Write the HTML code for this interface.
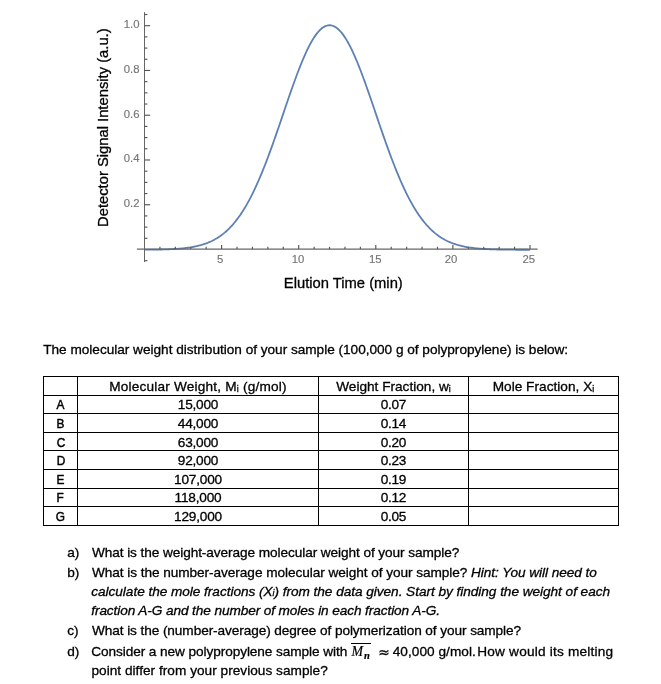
<!DOCTYPE html>
<html lang="en"><head><meta charset="utf-8"><title>Polymer GPC problem</title>
<style>
html,body{margin:0;padding:0;background:#fff;}
body{width:661px;height:684px;position:relative;overflow:hidden;font-family:"Liberation Sans",Arial,sans-serif;color:#000;}
svg{position:absolute;left:0;top:0;}
.tk{font-family:"Liberation Sans",Arial,sans-serif;font-size:11.3px;fill:#757575;stroke:#757575;stroke-width:0.15px;}
.al{font-family:"Liberation Sans",Arial,sans-serif;font-size:14.77px;fill:#000;stroke:#000;stroke-width:0.3px;}
.ln,td{-webkit-text-stroke:0.3px #000;}
.ln{position:absolute;white-space:nowrap;font-size:13.63px;line-height:16px;}
.ln i{font-style:italic;}
table{position:absolute;left:43px;top:376px;border-collapse:collapse;table-layout:fixed;width:575px;font-size:13.63px;}
td{border:1px solid #000;height:17.6px;padding:0;text-align:center;line-height:17px;vertical-align:middle;overflow:hidden;white-space:nowrap;}
td span{position:relative;}
td span.cl{display:inline-block;transform:scaleX(0.87);-webkit-text-stroke:0.5px #000;}
sub{font-size:8.8px;vertical-align:baseline;position:relative;top:0.8px;line-height:0;}
.mn{font-family:"Liberation Serif","Times New Roman",serif;font-size:13.8px;border-top:1px solid #000;display:inline-block;line-height:12px;padding-top:2px;width:19.8px;position:relative;top:-0.7px;-webkit-text-stroke:0.2px #000;}
.mn sub.n{font-size:10.5px;top:3.4px;font-weight:bold;margin-left:1px;}
.ap{font-family:"DejaVu Sans","Liberation Sans",sans-serif;font-size:13.6px;}
col.c1{width:34px}col.c2{width:241px}col.c3{width:150px}col.c4{width:150px}
</style></head><body>
<svg width="661" height="300" viewBox="0 0 661 300">
<path d="M144.50,249.72 L146.04,249.71 L147.58,249.70 L149.13,249.69 L150.67,249.67 L152.21,249.66 L153.75,249.64 L155.29,249.61 L156.84,249.59 L158.38,249.56 L159.92,249.53 L161.46,249.49 L163.00,249.46 L164.55,249.41 L166.09,249.36 L167.63,249.31 L169.17,249.25 L170.71,249.18 L172.26,249.11 L173.80,249.02 L175.34,248.93 L176.88,248.83 L178.42,248.72 L179.97,248.59 L181.51,248.46 L183.05,248.31 L184.59,248.14 L186.13,247.96 L187.68,247.76 L189.22,247.54 L190.76,247.31 L192.30,247.04 L193.84,246.76 L195.39,246.45 L196.93,246.11 L198.47,245.74 L200.01,245.34 L201.55,244.91 L203.10,244.44 L204.64,243.93 L206.18,243.39 L207.72,242.79 L209.26,242.15 L210.81,241.47 L212.35,240.73 L213.89,239.93 L215.43,239.08 L216.97,238.17 L218.52,237.19 L220.06,236.15 L221.60,235.04 L223.14,233.86 L224.68,232.59 L226.23,231.25 L227.77,229.83 L229.31,228.33 L230.85,226.73 L232.39,225.04 L233.94,223.26 L235.48,221.39 L237.02,219.41 L238.56,217.33 L240.10,215.15 L241.65,212.87 L243.19,210.47 L244.73,207.97 L246.27,205.36 L247.81,202.64 L249.36,199.81 L250.90,196.86 L252.44,193.81 L253.98,190.64 L255.52,187.37 L257.07,183.98 L258.61,180.49 L260.15,176.90 L261.69,173.20 L263.23,169.41 L264.78,165.52 L266.32,161.55 L267.86,157.48 L269.40,153.34 L270.94,149.13 L272.49,144.84 L274.03,140.50 L275.57,136.10 L277.11,131.66 L278.65,127.18 L280.20,122.67 L281.74,118.14 L283.28,113.60 L284.82,109.07 L286.36,104.54 L287.91,100.03 L289.45,95.55 L290.99,91.12 L292.53,86.74 L294.07,82.43 L295.62,78.19 L297.16,74.04 L298.70,69.99 L300.24,66.06 L301.78,62.24 L303.33,58.56 L304.87,55.02 L306.41,51.64 L307.95,48.42 L309.49,45.37 L311.04,42.51 L312.58,39.85 L314.12,37.38 L315.66,35.13 L317.20,33.09 L318.75,31.28 L320.29,29.70 L321.83,28.35 L323.37,27.24 L324.91,26.37 L326.46,25.75 L328.00,25.37 L329.54,25.25 L331.08,25.37 L332.62,25.75 L334.17,26.37 L335.71,27.24 L337.25,28.35 L338.79,29.70 L340.33,31.28 L341.88,33.09 L343.42,35.13 L344.96,37.38 L346.50,39.85 L348.04,42.51 L349.59,45.37 L351.13,48.42 L352.67,51.64 L354.21,55.02 L355.75,58.56 L357.30,62.24 L358.84,66.06 L360.38,69.99 L361.92,74.04 L363.46,78.19 L365.01,82.43 L366.55,86.74 L368.09,91.12 L369.63,95.55 L371.17,100.03 L372.72,104.54 L374.26,109.07 L375.80,113.60 L377.34,118.14 L378.88,122.67 L380.43,127.18 L381.97,131.66 L383.51,136.10 L385.05,140.50 L386.59,144.84 L388.14,149.13 L389.68,153.34 L391.22,157.48 L392.76,161.55 L394.30,165.52 L395.85,169.41 L397.39,173.20 L398.93,176.90 L400.47,180.49 L402.01,183.98 L403.56,187.37 L405.10,190.64 L406.64,193.81 L408.18,196.86 L409.72,199.81 L411.27,202.64 L412.81,205.36 L414.35,207.97 L415.89,210.47 L417.43,212.87 L418.98,215.15 L420.52,217.33 L422.06,219.41 L423.60,221.39 L425.14,223.26 L426.69,225.04 L428.23,226.73 L429.77,228.33 L431.31,229.83 L432.85,231.25 L434.40,232.59 L435.94,233.86 L437.48,235.04 L439.02,236.15 L440.56,237.19 L442.11,238.17 L443.65,239.08 L445.19,239.93 L446.73,240.73 L448.27,241.47 L449.82,242.15 L451.36,242.79 L452.90,243.39 L454.44,243.93 L455.98,244.44 L457.53,244.91 L459.07,245.34 L460.61,245.74 L462.15,246.11 L463.69,246.45 L465.24,246.76 L466.78,247.04 L468.32,247.31 L469.86,247.54 L471.40,247.76 L472.95,247.96 L474.49,248.14 L476.03,248.31 L477.57,248.46 L479.11,248.59 L480.66,248.72 L482.20,248.83 L483.74,248.93 L485.28,249.02 L486.82,249.11 L488.37,249.18 L489.91,249.25 L491.45,249.31 L492.99,249.36 L494.53,249.41 L496.08,249.46 L497.62,249.49 L499.16,249.53 L500.70,249.56 L502.24,249.59 L503.79,249.61 L505.33,249.64 L506.87,249.66 L508.41,249.67 L509.95,249.69 L511.50,249.70 L513.04,249.71 L514.58,249.72 L516.12,249.73 L517.66,249.74 L519.21,249.75 L520.75,249.76 L522.29,249.76 L523.83,249.77 L525.37,249.77 L526.92,249.77 L528.46,249.78 L530.00,249.78" fill="none" stroke="#5e81b5" stroke-width="1.8" stroke-linejoin="round"/>
<line x1="136.9" y1="249.0" x2="537.6" y2="249.0" stroke="#666" stroke-width="1.25"/>
<line x1="144.5" y1="12.1" x2="144.5" y2="262.1" stroke="#666" stroke-width="1"/>
<line x1="159.92" y1="249.0" x2="159.92" y2="246.8" stroke="#555" stroke-width="1.15"/>
<line x1="175.34" y1="249.0" x2="175.34" y2="246.8" stroke="#555" stroke-width="1.15"/>
<line x1="190.76" y1="249.0" x2="190.76" y2="246.8" stroke="#555" stroke-width="1.15"/>
<line x1="206.18" y1="249.0" x2="206.18" y2="246.8" stroke="#555" stroke-width="1.15"/>
<line x1="221.60" y1="249.0" x2="221.60" y2="245.0" stroke="#555" stroke-width="1.15"/>
<line x1="237.02" y1="249.0" x2="237.02" y2="246.8" stroke="#555" stroke-width="1.15"/>
<line x1="252.44" y1="249.0" x2="252.44" y2="246.8" stroke="#555" stroke-width="1.15"/>
<line x1="267.86" y1="249.0" x2="267.86" y2="246.8" stroke="#555" stroke-width="1.15"/>
<line x1="283.28" y1="249.0" x2="283.28" y2="246.8" stroke="#555" stroke-width="1.15"/>
<line x1="298.70" y1="249.0" x2="298.70" y2="245.0" stroke="#555" stroke-width="1.15"/>
<line x1="314.12" y1="249.0" x2="314.12" y2="246.8" stroke="#555" stroke-width="1.15"/>
<line x1="329.54" y1="249.0" x2="329.54" y2="246.8" stroke="#555" stroke-width="1.15"/>
<line x1="344.96" y1="249.0" x2="344.96" y2="246.8" stroke="#555" stroke-width="1.15"/>
<line x1="360.38" y1="249.0" x2="360.38" y2="246.8" stroke="#555" stroke-width="1.15"/>
<line x1="375.80" y1="249.0" x2="375.80" y2="245.0" stroke="#555" stroke-width="1.15"/>
<line x1="391.22" y1="249.0" x2="391.22" y2="246.8" stroke="#555" stroke-width="1.15"/>
<line x1="406.64" y1="249.0" x2="406.64" y2="246.8" stroke="#555" stroke-width="1.15"/>
<line x1="422.06" y1="249.0" x2="422.06" y2="246.8" stroke="#555" stroke-width="1.15"/>
<line x1="437.48" y1="249.0" x2="437.48" y2="246.8" stroke="#555" stroke-width="1.15"/>
<line x1="452.90" y1="249.0" x2="452.90" y2="245.0" stroke="#555" stroke-width="1.15"/>
<line x1="468.32" y1="249.0" x2="468.32" y2="246.8" stroke="#555" stroke-width="1.15"/>
<line x1="483.74" y1="249.0" x2="483.74" y2="246.8" stroke="#555" stroke-width="1.15"/>
<line x1="499.16" y1="249.0" x2="499.16" y2="246.8" stroke="#555" stroke-width="1.15"/>
<line x1="514.58" y1="249.0" x2="514.58" y2="246.8" stroke="#555" stroke-width="1.15"/>
<line x1="530.00" y1="249.0" x2="530.00" y2="245.0" stroke="#555" stroke-width="1.15"/>
<line x1="144.5" y1="260.69" x2="147.4" y2="260.69" stroke="#555" stroke-width="1.15"/>
<line x1="144.5" y1="238.31" x2="147.4" y2="238.31" stroke="#555" stroke-width="1.15"/>
<line x1="144.5" y1="227.12" x2="147.4" y2="227.12" stroke="#555" stroke-width="1.15"/>
<line x1="144.5" y1="215.93" x2="147.4" y2="215.93" stroke="#555" stroke-width="1.15"/>
<line x1="144.5" y1="204.74" x2="150.1" y2="204.74" stroke="#555" stroke-width="1.15"/>
<line x1="144.5" y1="193.55" x2="147.4" y2="193.55" stroke="#555" stroke-width="1.15"/>
<line x1="144.5" y1="182.36" x2="147.4" y2="182.36" stroke="#555" stroke-width="1.15"/>
<line x1="144.5" y1="171.17" x2="147.4" y2="171.17" stroke="#555" stroke-width="1.15"/>
<line x1="144.5" y1="159.98" x2="150.1" y2="159.98" stroke="#555" stroke-width="1.15"/>
<line x1="144.5" y1="148.79" x2="147.4" y2="148.79" stroke="#555" stroke-width="1.15"/>
<line x1="144.5" y1="137.60" x2="147.4" y2="137.60" stroke="#555" stroke-width="1.15"/>
<line x1="144.5" y1="126.41" x2="147.4" y2="126.41" stroke="#555" stroke-width="1.15"/>
<line x1="144.5" y1="115.22" x2="150.1" y2="115.22" stroke="#555" stroke-width="1.15"/>
<line x1="144.5" y1="104.03" x2="147.4" y2="104.03" stroke="#555" stroke-width="1.15"/>
<line x1="144.5" y1="92.84" x2="147.4" y2="92.84" stroke="#555" stroke-width="1.15"/>
<line x1="144.5" y1="81.65" x2="147.4" y2="81.65" stroke="#555" stroke-width="1.15"/>
<line x1="144.5" y1="70.46" x2="150.1" y2="70.46" stroke="#555" stroke-width="1.15"/>
<line x1="144.5" y1="59.27" x2="147.4" y2="59.27" stroke="#555" stroke-width="1.15"/>
<line x1="144.5" y1="48.08" x2="147.4" y2="48.08" stroke="#555" stroke-width="1.15"/>
<line x1="144.5" y1="36.89" x2="147.4" y2="36.89" stroke="#555" stroke-width="1.15"/>
<line x1="144.5" y1="25.70" x2="150.1" y2="25.70" stroke="#555" stroke-width="1.15"/>
<line x1="144.5" y1="14.51" x2="147.4" y2="14.51" stroke="#555" stroke-width="1.15"/>
<text x="220.2" y="263.3" text-anchor="middle" class="tk">5</text>
<text x="298.1" y="263.3" text-anchor="middle" class="tk">10</text>
<text x="375.3" y="263.3" text-anchor="middle" class="tk">15</text>
<text x="451.0" y="263.3" text-anchor="middle" class="tk">20</text>
<text x="528.8" y="263.3" text-anchor="middle" class="tk">25</text>
<text x="139.5" y="207.1" text-anchor="end" class="tk">0.2</text>
<text x="139.5" y="162.4" text-anchor="end" class="tk">0.4</text>
<text x="139.5" y="117.6" text-anchor="end" class="tk">0.6</text>
<text x="139.5" y="72.9" text-anchor="end" class="tk">0.8</text>
<text x="139.5" y="28.1" text-anchor="end" class="tk">1.0</text>
<text x="343.3" y="288" text-anchor="middle" class="al">Elution Time (min)</text>
<text transform="translate(108,127.7) rotate(-90)" text-anchor="middle" class="al">Detector Signal Intensity (a.u.)</text>
</svg>
<div class="ln" id="L0" style="left:43.26px;top:341.70px;letter-spacing:-0.017px;">The molecular weight distribution of your sample (100,000 g of polypropylene) is below:</div>
<div class="ln" id="a0" style="left:67.26px;top:544.70px;letter-spacing:0.000px;">a)</div>
<div class="ln" id="a1" style="left:91.96px;top:544.70px;letter-spacing:-0.078px;">What is the weight-average molecular weight of your sample?</div>
<div class="ln" id="b0" style="left:67.26px;top:564.70px;letter-spacing:0.000px;">b)</div>
<div class="ln" id="b1" style="left:91.96px;top:564.70px;letter-spacing:-0.056px;">What is the number-average molecular weight of your sample? <i>Hint: You will need to</i></div>
<div class="ln" id="b2" style="left:91.26px;top:583.70px;letter-spacing:-0.039px;"><i>calculate the mole fractions (X<sub>i</sub>) from the data given. Start by finding the weight of each</i></div>
<div class="ln" id="b3" style="left:91.26px;top:602.70px;letter-spacing:-0.096px;"><i>fraction A-G and the number of moles in each fraction A-G.</i></div>
<div class="ln" id="c0" style="left:67.26px;top:622.70px;letter-spacing:0.000px;">c)</div>
<div class="ln" id="c1" style="left:91.96px;top:622.70px;letter-spacing:-0.081px;">What is the (number-average) degree of polymerization of your sample?</div>
<div class="ln" id="d0" style="left:67.26px;top:643.70px;letter-spacing:0.000px;">d)</div>
<div class="ln" id="d1" style="left:91.22px;top:643.70px;letter-spacing:-0.077px;">Consider a new polypropylene sample with</div>
<div class="ln" id="d2" style="left:351.48px;top:643.70px;letter-spacing:0.000px;"><span class="mn"><i>M</i><sub class="n"><i>n</i></sub></span></div>
<div class="ln" id="d3" style="left:378.26px;top:643.70px;letter-spacing:0.000px;"><span class="ap">&#8776;</span></div>
<div class="ln" id="d5" style="left:392.74px;top:643.70px;letter-spacing:0.042px;">40,000 g/mol.</div>
<div class="ln" id="d4" style="left:477.26px;top:643.70px;letter-spacing:0.200px;">How would its melting</div>
<div class="ln" id="e1" style="left:91.48px;top:662.70px;letter-spacing:0.026px;">point differ from your previous sample?</div>
<table><colgroup><col class="c1"><col class="c2"><col class="c3"><col class="c4"></colgroup>
<tr><td></td><td><span style="top:1px;letter-spacing:0.19px">Molecular Weight, M<sub>i</sub> (g/mol)</span></td><td><span style="top:1px;letter-spacing:0.0px">Weight Fraction, w<sub>i</sub></span></td><td><span style="top:1px;letter-spacing:0.03px">Mole Fraction, X<sub>i</sub></span></td></tr>
<tr><td><span class="cl" style="top:0px;letter-spacing:0px">A</span></td><td><span style="top:0px;letter-spacing:-0.2px">15,000</span></td><td><span style="top:0px;letter-spacing:-0.3px">0.07</span></td><td></td></tr>
<tr><td><span class="cl" style="top:1px;letter-spacing:0px">B</span></td><td><span style="top:1px;letter-spacing:-0.2px">44,000</span></td><td><span style="top:1px;letter-spacing:-0.3px">0.14</span></td><td></td></tr>
<tr><td><span class="cl" style="top:1px;letter-spacing:0px">C</span></td><td><span style="top:1px;letter-spacing:-0.2px">63,000</span></td><td><span style="top:1px;letter-spacing:-0.3px">0.20</span></td><td></td></tr>
<tr><td><span class="cl" style="top:0px;letter-spacing:0px">D</span></td><td><span style="top:0px;letter-spacing:-0.2px">92,000</span></td><td><span style="top:0px;letter-spacing:-0.3px">0.23</span></td><td></td></tr>
<tr><td><span class="cl" style="top:1px;letter-spacing:0px">E</span></td><td><span style="top:1px;letter-spacing:-0.2px">107,000</span></td><td><span style="top:1px;letter-spacing:-0.3px">0.19</span></td><td></td></tr>
<tr><td><span class="cl" style="top:0px;letter-spacing:0px">F</span></td><td><span style="top:0px;letter-spacing:-0.2px">118,000</span></td><td><span style="top:0px;letter-spacing:-0.3px">0.12</span></td><td></td></tr>
<tr><td><span class="cl" style="top:1px;letter-spacing:0px">G</span></td><td><span style="top:1px;letter-spacing:-0.2px">129,000</span></td><td><span style="top:1px;letter-spacing:-0.3px">0.05</span></td><td></td></tr>
</table>
</body></html>
